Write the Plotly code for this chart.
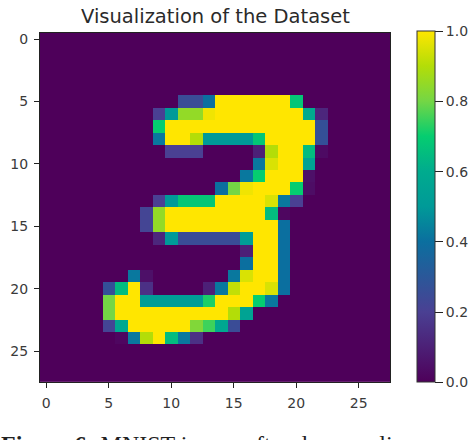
import plotly.graph_objects as go

W, H = 474, 440

# sparse pixel rows: {col: value}
row5 = {11:.25,12:.25,13:.4,14:1,15:1,16:1,17:1,18:1,19:1,20:.68}
row6 = {9:.2,10:.5,11:.85,12:.85,13:.98,14:1,15:1,16:1,17:1,18:1,19:1,20:1,21:.6,22:.12}
row7 = {9:.7,10:1,11:1,12:1,13:1,14:1,15:1,16:1,17:1,18:1,19:1,20:1,21:1,22:.27}
row8 = {9:.42,10:1,11:1,12:.9,13:.5,14:.5,15:.5,16:.5,17:.68,18:1,19:1,20:1,21:1,22:.27}
row9 = {10:.2,11:.2,12:.2,17:.1,18:.9,19:1,20:1,21:.65,22:.03}
row10 = {17:.42,18:.95,19:1,20:1,21:.55}
row11 = {16:.42,17:.7,18:1,19:1,20:1,21:.05}
row12 = {14:.4,15:.8,16:.98,17:1,18:1,19:1,20:.7,21:.04}
row13 = {9:.2,10:.5,11:.68,12:.68,13:.68,14:1,15:1,16:1,17:1,18:.95,19:.42,20:.2}
row14 = {8:.22,9:.85,10:1,11:1,12:1,13:1,14:1,15:1,16:1,17:1,18:.65,19:.02}
row15 = {8:.22,9:.85,10:1,11:1,12:1,13:1,14:1,15:1,16:1,17:1,18:1,19:.4}
row16 = {9:.12,10:.5,11:.25,12:.25,13:.25,14:.25,15:.25,16:.52,17:1,18:1,19:.4}
row17 = {16:.1,17:1,18:1,19:.4}
row18 = {16:.4,17:1,18:1,19:.4}
row19 = {7:.42,8:.05,15:.42,16:.95,17:1,18:1,19:.4}
row20 = {5:.27,6:.65,7:1,8:.15,13:.1,14:.42,15:.92,16:1,17:1,18:.95,19:.4}
row21 = {5:.8,6:1,7:1,8:.52,9:.52,10:.52,11:.52,12:.52,13:.72,14:1,15:1,16:1,17:.7,18:.42}
row22 = {5:.8,6:1,7:1,8:1,9:1,10:1,11:1,12:1,13:1,14:1,15:.9,16:.55}
row23 = {5:.22,6:.58,7:1,8:1,9:1,10:1,11:1,12:.82,13:.75,14:.58,15:.25}
row24 = {6:.02,7:.42,8:.9,9:1,10:.65,11:.42,12:.15}

rows = {5:row5,6:row6,7:row7,8:row8,9:row9,10:row10,11:row11,12:row12,13:row13,14:row14,
        15:row15,16:row16,17:row17,18:row18,19:row19,20:row20,21:row21,22:row22,23:row23,24:row24}
z = [[rows.get(r, {}).get(c, 0) for c in range(28)] for r in range(28)]

ticks_x = [0, 5, 10, 15, 20, 25]
ticks_c = [0.0, 0.2, 0.4, 0.6, 0.8, 1.0]
cscale = [[0,"#4e005a"],[.2,"#4a4093"],[.4,"#0b6f9f"],[.5,"#009a98"],[.6,"#00ab8e"],
          [.7,"#05cd70"],[.8,"#74d645"],[.9,"#b3dd08"],[1,"#ffe600"]]
tc = "#3a3a3a"
fnt = dict(family="DejaVu Sans", size=14, color=tc)

fig = go.Figure(go.Heatmap(
    z=z, colorscale=cscale, zmin=0, zmax=1, showscale=True,
    colorbar=dict(x=417/W, xanchor="left", xpad=0, ypad=0, thickness=18, thicknessmode="pixels",
                  lenmode="pixels", len=351, y=1-382/H, yanchor="bottom",
                  tickvals=ticks_c, ticktext=[f"{v:.1f}" for v in ticks_c], ticks="outside", ticklen=8,
                  tickcolor="#222", tickfont=fnt, outlinecolor="#333", outlinewidth=1),
))
fig.update_layout(
    width=W, height=H, margin=dict(l=0, r=0, t=0, b=0), paper_bgcolor="white", plot_bgcolor="white",
    font=fnt, showlegend=False,
    xaxis=dict(domain=[40/W, 390/W], range=[-0.5, 27.5], tickvals=ticks_x, ticks="outside", ticklen=5,
               tickcolor="#222", showgrid=False, zeroline=False, showline=True, linecolor="#222", mirror=True,
               tickfont=fnt, anchor="y", ticklabelstandoff=3),
    yaxis=dict(domain=[1-382/H, 1-31/H], range=[27.5, -0.5], tickvals=ticks_x, ticks="outside", ticklen=5,
               tickcolor="#222", showgrid=False, zeroline=False, showline=True, linecolor="#222", mirror=True,
               tickfont=fnt, anchor="x", ticklabelstandoff=3),
    annotations=[
        dict(text="Visualization of the Dataset", x=215/W, y=1-15/H, xref="paper", yref="paper",
             showarrow=False, xanchor="center", yanchor="middle",
             font=dict(family="DejaVu Sans", size=19.5, color="#2a2a2a")),
        dict(text="<b>Figure 6:</b> MNIST image after downscaling", x=0, y=1-430/H, xref="paper", yref="paper",
             showarrow=False, xanchor="left", yanchor="top", borderpad=0,
             font=dict(family="Liberation Serif", size=24, color="#222")),
    ],
)
fig.write_html("out.html", config={"displayModeBar": False},
               post_script="document.body.style.margin='0';document.body.style.overflow='hidden';")
